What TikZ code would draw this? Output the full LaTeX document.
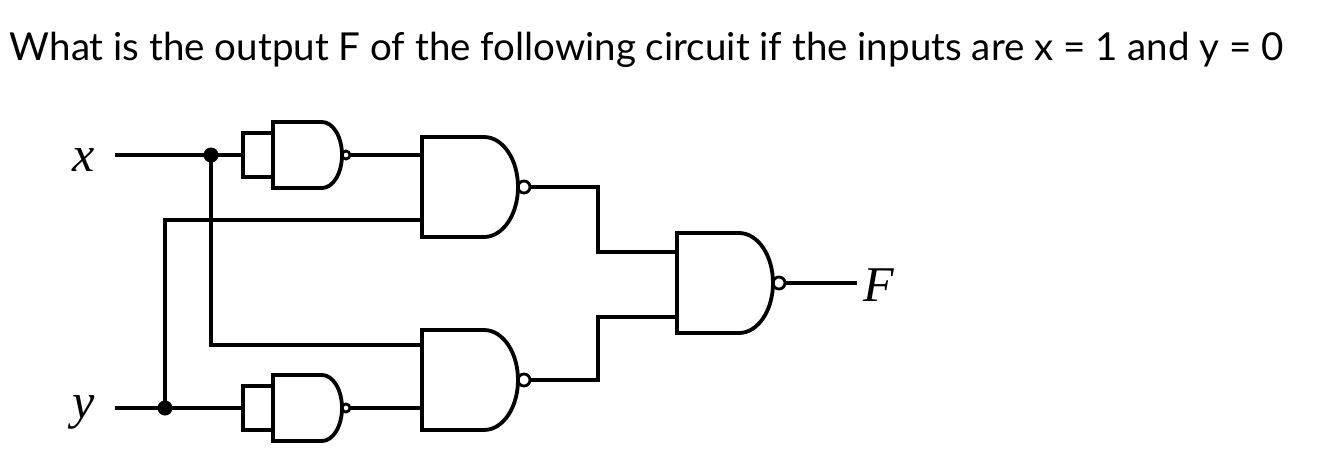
\documentclass[tikz,border=0pt]{standalone}
\usepackage{fontspec}
\newfontfamily\lato{Lato}
\newfontfamily\tnr{Liberation Serif}
\begin{document}
\begin{tikzpicture}[x=1pt,y=-1pt,line width=3.8pt,
  lbl/.style={font=\tnr\itshape\fontsize{50}{50}\selectfont,inner sep=0pt}]
\useasboundingbox (0,0) rectangle (1320,458);
\node[anchor=base west,inner sep=0pt,font=\lato\fontsize{38.5}{44}\selectfont] (title) at (8,60) {What is the output F of the following circuit if the inputs are x = 1 and y = 0};
% small gates
\foreach \n/\cy in {s1/155,s2/408}{
  \draw (243,\cy-22) rectangle (273,\cy+22);
  \draw (273,\cy-33) -- (322,\cy-33) arc[start angle=90,end angle=-90,x radius=20pt,y radius=33pt] -- (273,\cy+33) -- cycle;
  \draw[line width=2.8pt] (346,\cy) circle (4pt);
  \coordinate (\n in) at (243,\cy);
  \coordinate (\n out) at (350,\cy);
}
% big gates
\foreach \n/\gx/\cy in {g1/422/187,g2/422/380,g3/677/283}{
  \draw (\gx,\cy-50) -- (\gx+62,\cy-50) arc[start angle=90,end angle=-90,x radius=34pt,y radius=50pt] -- (\gx,\cy+50) -- cycle;
  \draw[line width=2.8pt] (\gx+102,\cy) circle (6pt);
  \coordinate (\n out) at (\gx+108,\cy);
}
\node[lbl] (x) at (84,160) {x};
\node[lbl] (y) at (84,412) {y};
\node[lbl,anchor=west] (F) at (862,285) {F};
\coordinate (dx) at (211,155);
\coordinate (dy) at (165,408);
\fill (dx) circle (7.5pt);
\fill (dy) circle (7.5pt);
\draw (115,155) -- (s1in);
\draw (115,408) -- (s2in);
\draw (s1out) -- (422,155);
\draw (s2out) -- (422,408);
\draw (dx) -- (211,345) -- (422,345);
\draw (dy) -- (165,220) -- (422,220);
\draw (g1out) -- (598,187) -- (598,252) -- (677,252);
\draw (g2out) -- (598,380) -- (598,317) -- (677,317);
\draw (g3out) -- (857,283);
\end{tikzpicture}
\end{document}
